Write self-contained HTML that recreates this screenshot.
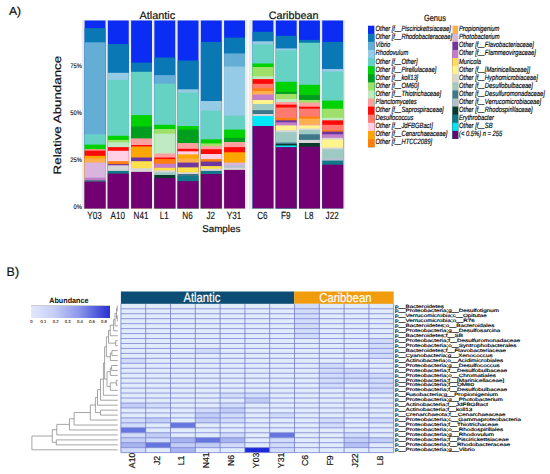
<!DOCTYPE html><html><head><meta charset="utf-8"><style>
html,body{margin:0;padding:0;background:#fff;}
body{width:550px;height:474px;position:relative;overflow:hidden;font-family:"Liberation Sans",sans-serif;}
.a{position:absolute;}
svg text{font-family:"Liberation Sans",sans-serif;text-rendering:geometricPrecision;}
</style></head><body>
<div class="a" style="left:31.4px;top:304.8px;width:78.6px;height:12.2px;background:linear-gradient(to right,#e2e9fc,#c4cdf6 30%,#8e98ea 60%,#3a44d8 92%,#2a32d0);border-top:0.6px solid #ccc;"></div>
<svg class="a" style="left:0;top:0;" width="550" height="474"><rect x="81.80" y="20.00" width="165.70" height="189.00" fill="#ebebeb"/><rect x="248.70" y="20.00" width="96.60" height="189.00" fill="#ebebeb"/><rect x="84.60" y="20.50" width="20.90" height="187.80" fill="#0b2cf2"/><rect x="84.60" y="28.10" width="20.90" height="180.20" fill="#0a78b4"/><rect x="84.60" y="42.30" width="20.90" height="166.00" fill="#64aed6"/><rect x="84.60" y="134.30" width="20.90" height="74.00" fill="#66d2c4"/><rect x="84.60" y="144.60" width="20.90" height="63.70" fill="#00d200"/><rect x="84.60" y="149.20" width="20.90" height="59.10" fill="#ffa0a0"/><rect x="84.60" y="150.60" width="20.90" height="57.70" fill="#ff0a0a"/><rect x="84.60" y="155.80" width="20.90" height="52.50" fill="#ffa500"/><rect x="84.60" y="158.50" width="20.90" height="49.80" fill="#ffb04e"/><rect x="84.60" y="162.60" width="20.90" height="45.70" fill="#d8b4de"/><rect x="84.60" y="177.70" width="20.90" height="30.60" fill="#c47ec8"/><rect x="84.60" y="180.20" width="20.90" height="28.10" fill="#3e7888"/><rect x="84.60" y="181.60" width="20.90" height="26.70" fill="#720072"/><rect x="107.85" y="20.50" width="20.90" height="187.80" fill="#0b2cf2"/><rect x="107.85" y="44.00" width="20.90" height="164.30" fill="#0a78b4"/><rect x="107.85" y="72.80" width="20.90" height="135.50" fill="#96cbe5"/><rect x="107.85" y="79.90" width="20.90" height="128.40" fill="#66d2c4"/><rect x="107.85" y="135.80" width="20.90" height="72.50" fill="#00d200"/><rect x="107.85" y="139.90" width="20.90" height="68.40" fill="#9ee06a"/><rect x="107.85" y="142.40" width="20.90" height="65.90" fill="#bfeac4"/><rect x="107.85" y="147.10" width="20.90" height="61.20" fill="#ff0a0a"/><rect x="107.85" y="150.80" width="20.90" height="57.50" fill="#ffd0e6"/><rect x="107.85" y="161.20" width="20.90" height="47.10" fill="#ff7f0e"/><rect x="107.85" y="164.10" width="20.90" height="44.20" fill="#6e36a0"/><rect x="107.85" y="165.30" width="20.90" height="43.00" fill="#d6d6d6"/><rect x="107.85" y="170.90" width="20.90" height="37.40" fill="#107888"/><rect x="107.85" y="173.60" width="20.90" height="34.70" fill="#720072"/><rect x="131.10" y="20.50" width="20.90" height="187.80" fill="#0b2cf2"/><rect x="131.10" y="62.60" width="20.90" height="145.70" fill="#0a78b4"/><rect x="131.10" y="71.80" width="20.90" height="136.50" fill="#66d2c4"/><rect x="131.10" y="115.10" width="20.90" height="93.20" fill="#00d200"/><rect x="131.10" y="126.50" width="20.90" height="81.80" fill="#009e1e"/><rect x="131.10" y="138.40" width="20.90" height="69.90" fill="#ffa0a0"/><rect x="131.10" y="145.00" width="20.90" height="63.30" fill="#ff0a0a"/><rect x="131.10" y="146.50" width="20.90" height="61.80" fill="#ffa500"/><rect x="131.10" y="157.50" width="20.90" height="50.80" fill="#6e36a0"/><rect x="131.10" y="161.20" width="20.90" height="47.10" fill="#ffe04a"/><rect x="131.10" y="168.20" width="20.90" height="40.10" fill="#d6d6d6"/><rect x="131.10" y="171.90" width="20.90" height="36.40" fill="#720072"/><rect x="154.35" y="20.50" width="20.90" height="187.80" fill="#0b2cf2"/><rect x="154.35" y="57.50" width="20.90" height="150.80" fill="#0a78b4"/><rect x="154.35" y="75.10" width="20.90" height="133.20" fill="#64aed6"/><rect x="154.35" y="83.80" width="20.90" height="124.50" fill="#66d2c4"/><rect x="154.35" y="124.80" width="20.90" height="83.50" fill="#00d200"/><rect x="154.35" y="129.00" width="20.90" height="79.30" fill="#9ee06a"/><rect x="154.35" y="133.70" width="20.90" height="74.60" fill="#bfeac4"/><rect x="154.35" y="153.50" width="20.90" height="54.80" fill="#ffa0a0"/><rect x="154.35" y="157.50" width="20.90" height="50.80" fill="#ff0a0a"/><rect x="154.35" y="159.10" width="20.90" height="49.20" fill="#ff7f0e"/><rect x="154.35" y="163.70" width="20.90" height="44.60" fill="#c47ec8"/><rect x="154.35" y="167.80" width="20.90" height="40.50" fill="#ffe04a"/><rect x="154.35" y="170.40" width="20.90" height="37.90" fill="#d6d6d6"/><rect x="154.35" y="172.30" width="20.90" height="36.00" fill="#9ecac4"/><rect x="154.35" y="175.00" width="20.90" height="33.30" fill="#0a3a2c"/><rect x="154.35" y="178.10" width="20.90" height="30.20" fill="#720072"/><rect x="177.60" y="20.50" width="20.90" height="187.80" fill="#0b2cf2"/><rect x="177.60" y="60.50" width="20.90" height="147.80" fill="#0a78b4"/><rect x="177.60" y="89.30" width="20.90" height="119.00" fill="#96cbe5"/><rect x="177.60" y="92.50" width="20.90" height="115.80" fill="#66d2c4"/><rect x="177.60" y="126.00" width="20.90" height="82.30" fill="#00d200"/><rect x="177.60" y="129.60" width="20.90" height="78.70" fill="#009e1e"/><rect x="177.60" y="143.00" width="20.90" height="65.30" fill="#ffa0a0"/><rect x="177.60" y="148.80" width="20.90" height="59.50" fill="#ff0a0a"/><rect x="177.60" y="151.30" width="20.90" height="57.00" fill="#ffd0e6"/><rect x="177.60" y="154.40" width="20.90" height="53.90" fill="#ffa500"/><rect x="177.60" y="158.50" width="20.90" height="49.80" fill="#ffb04e"/><rect x="177.60" y="162.60" width="20.90" height="45.70" fill="#6e36a0"/><rect x="177.60" y="167.40" width="20.90" height="40.90" fill="#ffe04a"/><rect x="177.60" y="172.30" width="20.90" height="36.00" fill="#d6d6d6"/><rect x="177.60" y="174.00" width="20.90" height="34.30" fill="#3e7888"/><rect x="177.60" y="176.00" width="20.90" height="32.30" fill="#107888"/><rect x="177.60" y="181.20" width="20.90" height="27.10" fill="#720072"/><rect x="200.85" y="20.50" width="20.90" height="187.80" fill="#0b2cf2"/><rect x="200.85" y="41.90" width="20.90" height="166.40" fill="#0a78b4"/><rect x="200.85" y="101.00" width="20.90" height="107.30" fill="#96cbe5"/><rect x="200.85" y="110.70" width="20.90" height="97.60" fill="#66d2c4"/><rect x="200.85" y="139.30" width="20.90" height="69.00" fill="#00d200"/><rect x="200.85" y="143.40" width="20.90" height="64.90" fill="#9ee06a"/><rect x="200.85" y="146.10" width="20.90" height="62.20" fill="#ffa0a0"/><rect x="200.85" y="149.20" width="20.90" height="59.10" fill="#ff0a0a"/><rect x="200.85" y="154.00" width="20.90" height="54.30" fill="#ffd0e6"/><rect x="200.85" y="159.10" width="20.90" height="49.20" fill="#ff7f0e"/><rect x="200.85" y="161.60" width="20.90" height="46.70" fill="#6e36a0"/><rect x="200.85" y="166.10" width="20.90" height="42.20" fill="#ffe04a"/><rect x="200.85" y="168.80" width="20.90" height="39.50" fill="#d6d6d6"/><rect x="200.85" y="170.90" width="20.90" height="37.40" fill="#107888"/><rect x="200.85" y="174.00" width="20.90" height="34.30" fill="#720072"/><rect x="224.10" y="20.50" width="20.90" height="187.80" fill="#0b2cf2"/><rect x="224.10" y="37.60" width="20.90" height="170.70" fill="#0a78b4"/><rect x="224.10" y="53.40" width="20.90" height="154.90" fill="#64aed6"/><rect x="224.10" y="66.60" width="20.90" height="141.70" fill="#96cbe5"/><rect x="224.10" y="115.70" width="20.90" height="92.60" fill="#66d2c4"/><rect x="224.10" y="129.60" width="20.90" height="78.70" fill="#00d200"/><rect x="224.10" y="137.80" width="20.90" height="70.50" fill="#009e1e"/><rect x="224.10" y="142.00" width="20.90" height="66.30" fill="#ffa0a0"/><rect x="224.10" y="147.10" width="20.90" height="61.20" fill="#ff0a0a"/><rect x="224.10" y="152.30" width="20.90" height="56.00" fill="#ffa500"/><rect x="224.10" y="162.60" width="20.90" height="45.70" fill="#d8b4de"/><rect x="224.10" y="165.30" width="20.90" height="43.00" fill="#b4c0d0"/><rect x="224.10" y="167.80" width="20.90" height="40.50" fill="#d6d6d6"/><rect x="224.10" y="169.90" width="20.90" height="38.40" fill="#720072"/><rect x="252.50" y="20.50" width="20.90" height="187.80" fill="#0b2cf2"/><rect x="252.50" y="31.80" width="20.90" height="176.50" fill="#0a78b4"/><rect x="252.50" y="41.30" width="20.90" height="167.00" fill="#96cbe5"/><rect x="252.50" y="44.30" width="20.90" height="164.00" fill="#66d2c4"/><rect x="252.50" y="63.50" width="20.90" height="144.80" fill="#00d200"/><rect x="252.50" y="67.00" width="20.90" height="141.30" fill="#9ee06a"/><rect x="252.50" y="76.30" width="20.90" height="132.00" fill="#bfeac4"/><rect x="252.50" y="79.10" width="20.90" height="129.20" fill="#ff0a0a"/><rect x="252.50" y="83.80" width="20.90" height="124.50" fill="#ff7b70"/><rect x="252.50" y="88.40" width="20.90" height="119.90" fill="#ff7f0e"/><rect x="252.50" y="90.90" width="20.90" height="117.40" fill="#ffb04e"/><rect x="252.50" y="94.50" width="20.90" height="113.80" fill="#c47ec8"/><rect x="252.50" y="100.00" width="20.90" height="108.30" fill="#fff58c"/><rect x="252.50" y="104.00" width="20.90" height="104.30" fill="#9ecac4"/><rect x="252.50" y="110.10" width="20.90" height="98.20" fill="#3e7888"/><rect x="252.50" y="114.00" width="20.90" height="94.30" fill="#d6d6d6"/><rect x="252.50" y="116.10" width="20.90" height="92.20" fill="#00e6f6"/><rect x="252.50" y="126.00" width="20.90" height="82.30" fill="#720072"/><rect x="275.80" y="20.50" width="20.90" height="187.80" fill="#0b2cf2"/><rect x="275.80" y="35.80" width="20.90" height="172.50" fill="#0a78b4"/><rect x="275.80" y="48.40" width="20.90" height="159.90" fill="#96cbe5"/><rect x="275.80" y="50.40" width="20.90" height="157.90" fill="#66d2c4"/><rect x="275.80" y="81.80" width="20.90" height="126.50" fill="#00d200"/><rect x="275.80" y="91.90" width="20.90" height="116.40" fill="#009e1e"/><rect x="275.80" y="93.90" width="20.90" height="114.40" fill="#9ee06a"/><rect x="275.80" y="99.00" width="20.90" height="109.30" fill="#bfeac4"/><rect x="275.80" y="102.00" width="20.90" height="106.30" fill="#ffa0a0"/><rect x="275.80" y="104.60" width="20.90" height="103.70" fill="#ff0a0a"/><rect x="275.80" y="107.50" width="20.90" height="100.80" fill="#ff7b70"/><rect x="275.80" y="117.80" width="20.90" height="90.50" fill="#ff7f0e"/><rect x="275.80" y="120.30" width="20.90" height="88.00" fill="#6e36a0"/><rect x="275.80" y="122.30" width="20.90" height="86.00" fill="#c47ec8"/><rect x="275.80" y="125.40" width="20.90" height="82.90" fill="#fff58c"/><rect x="275.80" y="130.20" width="20.90" height="78.10" fill="#d6d6d6"/><rect x="275.80" y="132.20" width="20.90" height="76.10" fill="#9ecac4"/><rect x="275.80" y="142.60" width="20.90" height="65.70" fill="#3e7888"/><rect x="275.80" y="144.00" width="20.90" height="64.30" fill="#0a3a2c"/><rect x="275.80" y="145.50" width="20.90" height="62.80" fill="#00e6f6"/><rect x="275.80" y="147.10" width="20.90" height="61.20" fill="#720072"/><rect x="299.00" y="20.50" width="20.90" height="187.80" fill="#0b2cf2"/><rect x="299.00" y="39.90" width="20.90" height="168.40" fill="#0a78b4"/><rect x="299.00" y="42.70" width="20.90" height="165.60" fill="#66d2c4"/><rect x="299.00" y="84.80" width="20.90" height="123.50" fill="#00d200"/><rect x="299.00" y="94.90" width="20.90" height="113.40" fill="#009e1e"/><rect x="299.00" y="100.00" width="20.90" height="108.30" fill="#9ee06a"/><rect x="299.00" y="102.60" width="20.90" height="105.70" fill="#ffa0a0"/><rect x="299.00" y="106.70" width="20.90" height="101.60" fill="#ff0a0a"/><rect x="299.00" y="108.70" width="20.90" height="99.60" fill="#ff7b70"/><rect x="299.00" y="116.50" width="20.90" height="91.80" fill="#ff7f0e"/><rect x="299.00" y="118.60" width="20.90" height="89.70" fill="#ffb04e"/><rect x="299.00" y="124.40" width="20.90" height="83.90" fill="#ffa0a0"/><rect x="299.00" y="125.40" width="20.90" height="82.90" fill="#fff58c"/><rect x="299.00" y="128.50" width="20.90" height="79.80" fill="#d6d6d6"/><rect x="299.00" y="130.00" width="20.90" height="78.30" fill="#9ecac4"/><rect x="299.00" y="134.30" width="20.90" height="74.00" fill="#3e7888"/><rect x="299.00" y="139.90" width="20.90" height="68.40" fill="#d6d6d6"/><rect x="299.00" y="143.00" width="20.90" height="65.30" fill="#0a3a2c"/><rect x="299.00" y="146.70" width="20.90" height="61.60" fill="#720072"/><rect x="322.20" y="20.50" width="20.90" height="187.80" fill="#0b2cf2"/><rect x="322.20" y="41.90" width="20.90" height="166.40" fill="#0a78b4"/><rect x="322.20" y="69.00" width="20.90" height="139.30" fill="#96cbe5"/><rect x="322.20" y="71.60" width="20.90" height="136.70" fill="#66d2c4"/><rect x="322.20" y="100.60" width="20.90" height="107.70" fill="#00d200"/><rect x="322.20" y="108.70" width="20.90" height="99.60" fill="#9ee06a"/><rect x="322.20" y="117.80" width="20.90" height="90.50" fill="#bfeac4"/><rect x="322.20" y="120.30" width="20.90" height="88.00" fill="#ff0a0a"/><rect x="322.20" y="124.80" width="20.90" height="83.50" fill="#ff7b70"/><rect x="322.20" y="130.20" width="20.90" height="78.10" fill="#ff7f0e"/><rect x="322.20" y="131.60" width="20.90" height="76.70" fill="#6e36a0"/><rect x="322.20" y="134.30" width="20.90" height="74.00" fill="#c47ec8"/><rect x="322.20" y="137.80" width="20.90" height="70.50" fill="#d6d6d6"/><rect x="322.20" y="139.50" width="20.90" height="68.80" fill="#fff58c"/><rect x="322.20" y="147.50" width="20.90" height="60.80" fill="#d6d6d6"/><rect x="322.20" y="149.20" width="20.90" height="59.10" fill="#9ecac4"/><rect x="322.20" y="157.90" width="20.90" height="50.40" fill="#b4c0d0"/><rect x="322.20" y="160.60" width="20.90" height="47.70" fill="#107888"/><rect x="322.20" y="164.70" width="20.90" height="43.60" fill="#720072"/><rect x="368.00" y="25.70" width="6.40" height="121.35" fill="#0b2cf2"/><rect x="368.00" y="33.79" width="6.40" height="113.26" fill="#0a78b4"/><rect x="368.00" y="41.88" width="6.40" height="105.17" fill="#64aed6"/><rect x="368.00" y="49.97" width="6.40" height="97.08" fill="#96cbe5"/><rect x="368.00" y="58.06" width="6.40" height="88.99" fill="#66d2c4"/><rect x="368.00" y="66.15" width="6.40" height="80.90" fill="#00d200"/><rect x="368.00" y="74.24" width="6.40" height="72.81" fill="#009e1e"/><rect x="368.00" y="82.33" width="6.40" height="64.72" fill="#9ee06a"/><rect x="368.00" y="90.42" width="6.40" height="56.63" fill="#bfeac4"/><rect x="368.00" y="98.51" width="6.40" height="48.54" fill="#ffa0a0"/><rect x="368.00" y="106.60" width="6.40" height="40.45" fill="#ff0a0a"/><rect x="368.00" y="114.69" width="6.40" height="32.36" fill="#ff7b70"/><rect x="368.00" y="122.78" width="6.40" height="24.27" fill="#ffd0e6"/><rect x="368.00" y="130.87" width="6.40" height="16.18" fill="#ffa500"/><rect x="368.00" y="138.96" width="6.40" height="8.09" fill="#ff7f0e"/><rect x="452.50" y="25.70" width="5.60" height="113.26" fill="#ffb04e"/><rect x="452.50" y="33.79" width="5.60" height="105.17" fill="#d8b4de"/><rect x="452.50" y="41.88" width="5.60" height="97.08" fill="#6e36a0"/><rect x="452.50" y="49.97" width="5.60" height="88.99" fill="#c47ec8"/><rect x="452.50" y="58.06" width="5.60" height="80.90" fill="#ffe04a"/><rect x="452.50" y="66.15" width="5.60" height="72.81" fill="#fff58c"/><rect x="452.50" y="74.24" width="5.60" height="64.72" fill="#d6d6d6"/><rect x="452.50" y="82.33" width="5.60" height="56.63" fill="#9ecac4"/><rect x="452.50" y="90.42" width="5.60" height="48.54" fill="#3e7888"/><rect x="452.50" y="98.51" width="5.60" height="40.45" fill="#b4c0d0"/><rect x="452.50" y="106.60" width="5.60" height="32.36" fill="#0a3a2c"/><rect x="452.50" y="114.69" width="5.60" height="24.27" fill="#107888"/><rect x="452.50" y="122.78" width="5.60" height="16.18" fill="#00e6f6"/><rect x="452.50" y="130.87" width="5.60" height="8.09" fill="#720072"/><rect x="120.90" y="291.50" width="173.30" height="12.50" fill="#0b4d74"/><rect x="294.20" y="291.50" width="99.50" height="12.50" fill="#f09c0c"/><rect x="120.90" y="303.80" width="272.80" height="148.80" fill="#e0ebfc"/><rect x="120.90" y="358.36" width="24.80" height="4.96" fill="#d0dcfa"/><rect x="120.90" y="403.00" width="24.80" height="4.96" fill="#c2cef6"/><rect x="120.90" y="417.88" width="24.80" height="4.96" fill="#d0dcfa"/><rect x="120.90" y="422.84" width="24.80" height="4.96" fill="#d0dcfa"/><rect x="120.90" y="427.80" width="24.80" height="4.96" fill="#6676e0"/><rect x="120.90" y="432.76" width="24.80" height="4.96" fill="#d0dcfa"/><rect x="120.90" y="437.72" width="24.80" height="4.96" fill="#c2cef6"/><rect x="120.90" y="442.68" width="24.80" height="4.96" fill="#a8b4f0"/><rect x="120.90" y="447.64" width="24.80" height="4.96" fill="#d0dcfa"/><rect x="145.70" y="403.00" width="24.80" height="4.96" fill="#d0dcfa"/><rect x="145.70" y="417.88" width="24.80" height="4.96" fill="#c2cef6"/><rect x="145.70" y="432.76" width="24.80" height="4.96" fill="#c2cef6"/><rect x="145.70" y="437.72" width="24.80" height="4.96" fill="#d0dcfa"/><rect x="145.70" y="442.68" width="24.80" height="4.96" fill="#6676e0"/><rect x="170.50" y="422.84" width="24.80" height="4.96" fill="#6676e0"/><rect x="170.50" y="437.72" width="24.80" height="4.96" fill="#a8b4f0"/><rect x="170.50" y="442.68" width="24.80" height="4.96" fill="#c2cef6"/><rect x="170.50" y="447.64" width="24.80" height="4.96" fill="#a8b4f0"/><rect x="195.30" y="348.44" width="24.80" height="4.96" fill="#d0dcfa"/><rect x="195.30" y="407.96" width="24.80" height="4.96" fill="#d0dcfa"/><rect x="195.30" y="412.92" width="24.80" height="4.96" fill="#c2cef6"/><rect x="195.30" y="417.88" width="24.80" height="4.96" fill="#c2cef6"/><rect x="195.30" y="437.72" width="24.80" height="4.96" fill="#6676e0"/><rect x="195.30" y="442.68" width="24.80" height="4.96" fill="#c2cef6"/><rect x="220.10" y="393.08" width="24.80" height="4.96" fill="#d0dcfa"/><rect x="220.10" y="403.00" width="24.80" height="4.96" fill="#d0dcfa"/><rect x="220.10" y="407.96" width="24.80" height="4.96" fill="#c2cef6"/><rect x="220.10" y="412.92" width="24.80" height="4.96" fill="#d0dcfa"/><rect x="220.10" y="417.88" width="24.80" height="4.96" fill="#d0dcfa"/><rect x="220.10" y="432.76" width="24.80" height="4.96" fill="#d0dcfa"/><rect x="220.10" y="437.72" width="24.80" height="4.96" fill="#a8b4f0"/><rect x="220.10" y="442.68" width="24.80" height="4.96" fill="#d0dcfa"/><rect x="244.90" y="393.08" width="24.80" height="4.96" fill="#d0dcfa"/><rect x="244.90" y="398.04" width="24.80" height="4.96" fill="#c2cef6"/><rect x="244.90" y="447.64" width="24.80" height="4.96" fill="#1c2ad8"/><rect x="269.70" y="412.92" width="24.80" height="4.96" fill="#d0dcfa"/><rect x="269.70" y="432.76" width="24.80" height="4.96" fill="#6676e0"/><rect x="269.70" y="437.72" width="24.80" height="4.96" fill="#d0dcfa"/><rect x="269.70" y="442.68" width="24.80" height="4.96" fill="#d0dcfa"/><rect x="269.70" y="447.64" width="24.80" height="4.96" fill="#d0dcfa"/><rect x="294.50" y="303.80" width="24.80" height="4.96" fill="#d0dcfa"/><rect x="294.50" y="308.76" width="24.80" height="4.96" fill="#d0dcfa"/><rect x="294.50" y="313.72" width="24.80" height="4.96" fill="#d0dcfa"/><rect x="294.50" y="318.68" width="24.80" height="4.96" fill="#d0dcfa"/><rect x="294.50" y="323.64" width="24.80" height="4.96" fill="#d0dcfa"/><rect x="294.50" y="328.60" width="24.80" height="4.96" fill="#d0dcfa"/><rect x="294.50" y="333.56" width="24.80" height="4.96" fill="#d0dcfa"/><rect x="319.30" y="363.32" width="24.80" height="4.96" fill="#d0dcfa"/><rect x="319.30" y="368.28" width="24.80" height="4.96" fill="#d0dcfa"/><rect x="319.30" y="373.24" width="24.80" height="4.96" fill="#d0dcfa"/><rect x="319.30" y="378.20" width="24.80" height="4.96" fill="#d0dcfa"/><rect x="319.30" y="383.16" width="24.80" height="4.96" fill="#d0dcfa"/><rect x="319.30" y="417.88" width="24.80" height="4.96" fill="#d0dcfa"/><rect x="319.30" y="422.84" width="24.80" height="4.96" fill="#d0dcfa"/><rect x="344.10" y="368.28" width="24.80" height="4.96" fill="#d0dcfa"/><rect x="344.10" y="373.24" width="24.80" height="4.96" fill="#d0dcfa"/><rect x="344.10" y="378.20" width="24.80" height="4.96" fill="#d0dcfa"/><rect x="344.10" y="432.76" width="24.80" height="4.96" fill="#d0dcfa"/><rect x="344.10" y="437.72" width="24.80" height="4.96" fill="#c2cef6"/><rect x="344.10" y="442.68" width="24.80" height="4.96" fill="#b6c2f4"/><rect x="368.90" y="338.52" width="24.80" height="4.96" fill="#d0dcfa"/><rect x="368.90" y="343.48" width="24.80" height="4.96" fill="#d0dcfa"/><rect x="368.90" y="348.44" width="24.80" height="4.96" fill="#d0dcfa"/><rect x="368.90" y="353.40" width="24.80" height="4.96" fill="#d0dcfa"/><rect x="368.90" y="373.24" width="24.80" height="4.96" fill="#d0dcfa"/><rect x="368.90" y="378.20" width="24.80" height="4.96" fill="#d0dcfa"/><rect x="368.90" y="383.16" width="24.80" height="4.96" fill="#d0dcfa"/><rect x="368.90" y="388.12" width="24.80" height="4.96" fill="#d0dcfa"/><rect x="368.90" y="417.88" width="24.80" height="4.96" fill="#d0dcfa"/><rect x="368.90" y="437.72" width="24.80" height="4.96" fill="#c2cef6"/><line x1="120.90" y1="308.76" x2="393.70" y2="308.76" stroke="#7c84d0" stroke-width="0.8"/><line x1="120.90" y1="313.72" x2="393.70" y2="313.72" stroke="#7c84d0" stroke-width="0.8"/><line x1="120.90" y1="318.68" x2="393.70" y2="318.68" stroke="#7c84d0" stroke-width="0.8"/><line x1="120.90" y1="323.64" x2="393.70" y2="323.64" stroke="#7c84d0" stroke-width="0.8"/><line x1="120.90" y1="328.60" x2="393.70" y2="328.60" stroke="#7c84d0" stroke-width="0.8"/><line x1="120.90" y1="333.56" x2="393.70" y2="333.56" stroke="#7c84d0" stroke-width="0.8"/><line x1="120.90" y1="338.52" x2="393.70" y2="338.52" stroke="#7c84d0" stroke-width="0.8"/><line x1="120.90" y1="343.48" x2="393.70" y2="343.48" stroke="#7c84d0" stroke-width="0.8"/><line x1="120.90" y1="348.44" x2="393.70" y2="348.44" stroke="#7c84d0" stroke-width="0.8"/><line x1="120.90" y1="353.40" x2="393.70" y2="353.40" stroke="#7c84d0" stroke-width="0.8"/><line x1="120.90" y1="358.36" x2="393.70" y2="358.36" stroke="#7c84d0" stroke-width="0.8"/><line x1="120.90" y1="363.32" x2="393.70" y2="363.32" stroke="#7c84d0" stroke-width="0.8"/><line x1="120.90" y1="368.28" x2="393.70" y2="368.28" stroke="#7c84d0" stroke-width="0.8"/><line x1="120.90" y1="373.24" x2="393.70" y2="373.24" stroke="#7c84d0" stroke-width="0.8"/><line x1="120.90" y1="378.20" x2="393.70" y2="378.20" stroke="#7c84d0" stroke-width="0.8"/><line x1="120.90" y1="383.16" x2="393.70" y2="383.16" stroke="#7c84d0" stroke-width="0.8"/><line x1="120.90" y1="388.12" x2="393.70" y2="388.12" stroke="#7c84d0" stroke-width="0.8"/><line x1="120.90" y1="393.08" x2="393.70" y2="393.08" stroke="#7c84d0" stroke-width="0.8"/><line x1="120.90" y1="398.04" x2="393.70" y2="398.04" stroke="#7c84d0" stroke-width="0.8"/><line x1="120.90" y1="403.00" x2="393.70" y2="403.00" stroke="#7c84d0" stroke-width="0.8"/><line x1="120.90" y1="407.96" x2="393.70" y2="407.96" stroke="#7c84d0" stroke-width="0.8"/><line x1="120.90" y1="412.92" x2="393.70" y2="412.92" stroke="#7c84d0" stroke-width="0.8"/><line x1="120.90" y1="417.88" x2="393.70" y2="417.88" stroke="#7c84d0" stroke-width="0.8"/><line x1="120.90" y1="422.84" x2="393.70" y2="422.84" stroke="#7c84d0" stroke-width="0.8"/><line x1="120.90" y1="427.80" x2="393.70" y2="427.80" stroke="#7c84d0" stroke-width="0.8"/><line x1="120.90" y1="432.76" x2="393.70" y2="432.76" stroke="#7c84d0" stroke-width="0.8"/><line x1="120.90" y1="437.72" x2="393.70" y2="437.72" stroke="#7c84d0" stroke-width="0.8"/><line x1="120.90" y1="442.68" x2="393.70" y2="442.68" stroke="#7c84d0" stroke-width="0.8"/><line x1="120.90" y1="447.64" x2="393.70" y2="447.64" stroke="#7c84d0" stroke-width="0.8"/><line x1="120.90" y1="452.60" x2="393.70" y2="452.60" stroke="#7c84d0" stroke-width="0.8"/><line x1="120.90" y1="303.80" x2="120.90" y2="452.60" stroke="#747cca" stroke-width="0.8"/><line x1="145.70" y1="303.80" x2="145.70" y2="452.60" stroke="#747cca" stroke-width="0.8"/><line x1="170.50" y1="303.80" x2="170.50" y2="452.60" stroke="#747cca" stroke-width="0.8"/><line x1="195.30" y1="303.80" x2="195.30" y2="452.60" stroke="#747cca" stroke-width="0.8"/><line x1="220.10" y1="303.80" x2="220.10" y2="452.60" stroke="#747cca" stroke-width="0.8"/><line x1="244.90" y1="303.80" x2="244.90" y2="452.60" stroke="#747cca" stroke-width="0.8"/><line x1="269.70" y1="303.80" x2="269.70" y2="452.60" stroke="#747cca" stroke-width="0.8"/><line x1="294.50" y1="303.80" x2="294.50" y2="452.60" stroke="#747cca" stroke-width="0.8"/><line x1="319.30" y1="303.80" x2="319.30" y2="452.60" stroke="#747cca" stroke-width="0.8"/><line x1="344.10" y1="303.80" x2="344.10" y2="452.60" stroke="#747cca" stroke-width="0.8"/><line x1="368.90" y1="303.80" x2="368.90" y2="452.60" stroke="#747cca" stroke-width="0.8"/><line x1="393.70" y1="303.80" x2="393.70" y2="452.60" stroke="#747cca" stroke-width="0.8"/></svg>
<svg class="a" style="left:0;top:0;" width="550" height="474"><g stroke="#888" stroke-width="0.75" fill="none"><line x1="117.20" y1="305.98" x2="117.20" y2="310.94"/><line x1="117.20" y1="305.98" x2="117.80" y2="305.98"/><line x1="117.20" y1="310.94" x2="117.80" y2="310.94"/><line x1="117.20" y1="315.90" x2="117.20" y2="320.86"/><line x1="117.20" y1="315.90" x2="117.80" y2="315.90"/><line x1="117.20" y1="320.86" x2="117.80" y2="320.86"/><line x1="116.50" y1="308.46" x2="116.50" y2="318.38"/><line x1="116.50" y1="308.46" x2="117.20" y2="308.46"/><line x1="116.50" y1="318.38" x2="117.20" y2="318.38"/><line x1="115.00" y1="313.42" x2="115.00" y2="325.82"/><line x1="115.00" y1="313.42" x2="116.50" y2="313.42"/><line x1="115.00" y1="325.82" x2="117.80" y2="325.82"/><line x1="113.60" y1="319.62" x2="113.60" y2="330.78"/><line x1="113.60" y1="319.62" x2="115.00" y2="319.62"/><line x1="113.60" y1="330.78" x2="117.80" y2="330.78"/><line x1="110.20" y1="325.20" x2="110.20" y2="335.74"/><line x1="110.20" y1="325.20" x2="113.60" y2="325.20"/><line x1="110.20" y1="335.74" x2="117.80" y2="335.74"/><line x1="115.70" y1="340.70" x2="115.70" y2="345.66"/><line x1="115.70" y1="340.70" x2="117.80" y2="340.70"/><line x1="115.70" y1="345.66" x2="117.80" y2="345.66"/><line x1="108.50" y1="330.47" x2="108.50" y2="343.18"/><line x1="108.50" y1="330.47" x2="110.20" y2="330.47"/><line x1="108.50" y1="343.18" x2="115.70" y2="343.18"/><line x1="111.90" y1="350.62" x2="111.90" y2="355.58"/><line x1="111.90" y1="350.62" x2="117.80" y2="350.62"/><line x1="111.90" y1="355.58" x2="117.80" y2="355.58"/><line x1="110.30" y1="353.10" x2="110.30" y2="360.54"/><line x1="110.30" y1="353.10" x2="111.90" y2="353.10"/><line x1="110.30" y1="360.54" x2="117.80" y2="360.54"/><line x1="106.40" y1="336.83" x2="106.40" y2="356.82"/><line x1="106.40" y1="336.83" x2="108.50" y2="336.83"/><line x1="106.40" y1="356.82" x2="110.30" y2="356.82"/><line x1="111.60" y1="365.50" x2="111.60" y2="370.46"/><line x1="111.60" y1="365.50" x2="117.80" y2="365.50"/><line x1="111.60" y1="370.46" x2="117.80" y2="370.46"/><line x1="110.30" y1="367.98" x2="110.30" y2="375.42"/><line x1="110.30" y1="367.98" x2="111.60" y2="367.98"/><line x1="110.30" y1="375.42" x2="117.80" y2="375.42"/><line x1="116.30" y1="380.38" x2="116.30" y2="385.34"/><line x1="116.30" y1="380.38" x2="117.80" y2="380.38"/><line x1="116.30" y1="385.34" x2="117.80" y2="385.34"/><line x1="110.30" y1="382.86" x2="110.30" y2="390.30"/><line x1="110.30" y1="382.86" x2="116.30" y2="382.86"/><line x1="110.30" y1="390.30" x2="117.80" y2="390.30"/><line x1="107.00" y1="371.70" x2="107.00" y2="386.58"/><line x1="107.00" y1="371.70" x2="110.30" y2="371.70"/><line x1="107.00" y1="386.58" x2="110.30" y2="386.58"/><line x1="104.60" y1="346.82" x2="104.60" y2="379.14"/><line x1="104.60" y1="346.82" x2="106.40" y2="346.82"/><line x1="104.60" y1="379.14" x2="107.00" y2="379.14"/><line x1="103.40" y1="362.98" x2="103.40" y2="395.26"/><line x1="103.40" y1="362.98" x2="104.60" y2="362.98"/><line x1="103.40" y1="395.26" x2="117.80" y2="395.26"/><line x1="100.50" y1="379.12" x2="100.50" y2="400.22"/><line x1="100.50" y1="379.12" x2="103.40" y2="379.12"/><line x1="100.50" y1="400.22" x2="117.80" y2="400.22"/><line x1="97.50" y1="389.67" x2="97.50" y2="405.18"/><line x1="97.50" y1="389.67" x2="100.50" y2="389.67"/><line x1="97.50" y1="405.18" x2="117.80" y2="405.18"/><line x1="100.50" y1="410.14" x2="100.50" y2="415.10"/><line x1="100.50" y1="410.14" x2="117.80" y2="410.14"/><line x1="100.50" y1="415.10" x2="117.80" y2="415.10"/><line x1="95.40" y1="397.43" x2="95.40" y2="412.62"/><line x1="95.40" y1="397.43" x2="97.50" y2="397.43"/><line x1="95.40" y1="412.62" x2="100.50" y2="412.62"/><line x1="90.30" y1="405.02" x2="90.30" y2="420.06"/><line x1="90.30" y1="405.02" x2="95.40" y2="405.02"/><line x1="90.30" y1="420.06" x2="117.80" y2="420.06"/><line x1="74.10" y1="412.54" x2="74.10" y2="425.02"/><line x1="74.10" y1="412.54" x2="90.30" y2="412.54"/><line x1="74.10" y1="425.02" x2="117.80" y2="425.02"/><line x1="69.50" y1="418.78" x2="69.50" y2="429.98"/><line x1="69.50" y1="418.78" x2="74.10" y2="418.78"/><line x1="69.50" y1="429.98" x2="117.80" y2="429.98"/><line x1="56.80" y1="424.38" x2="56.80" y2="434.94"/><line x1="56.80" y1="424.38" x2="69.50" y2="424.38"/><line x1="56.80" y1="434.94" x2="117.80" y2="434.94"/><line x1="56.30" y1="439.90" x2="56.30" y2="444.86"/><line x1="56.30" y1="439.90" x2="117.80" y2="439.90"/><line x1="56.30" y1="444.86" x2="117.80" y2="444.86"/><line x1="52.30" y1="429.66" x2="52.30" y2="442.38"/><line x1="52.30" y1="429.66" x2="56.80" y2="429.66"/><line x1="52.30" y1="442.38" x2="56.30" y2="442.38"/><line x1="31.90" y1="436.02" x2="31.90" y2="449.82"/><line x1="31.90" y1="436.02" x2="52.30" y2="436.02"/><line x1="31.90" y1="449.82" x2="117.80" y2="449.82"/></g></svg>
<svg class="a" style="left:0;top:0;" width="550" height="474"><text transform="translate(94.55 218.60) scale(0.78 1)" font-size="10.4" text-anchor="middle" fill="#111" font-weight="normal" font-style="normal" stroke="#111" stroke-width="0.15">Y03</text><text transform="translate(117.80 218.60) scale(0.78 1)" font-size="10.4" text-anchor="middle" fill="#111" font-weight="normal" font-style="normal" stroke="#111" stroke-width="0.15">A10</text><text transform="translate(141.05 218.60) scale(0.78 1)" font-size="10.4" text-anchor="middle" fill="#111" font-weight="normal" font-style="normal" stroke="#111" stroke-width="0.15">N41</text><text transform="translate(164.30 218.60) scale(0.78 1)" font-size="10.4" text-anchor="middle" fill="#111" font-weight="normal" font-style="normal" stroke="#111" stroke-width="0.15">L1</text><text transform="translate(187.55 218.60) scale(0.78 1)" font-size="10.4" text-anchor="middle" fill="#111" font-weight="normal" font-style="normal" stroke="#111" stroke-width="0.15">N6</text><text transform="translate(210.80 218.60) scale(0.78 1)" font-size="10.4" text-anchor="middle" fill="#111" font-weight="normal" font-style="normal" stroke="#111" stroke-width="0.15">J2</text><text transform="translate(234.05 218.60) scale(0.78 1)" font-size="10.4" text-anchor="middle" fill="#111" font-weight="normal" font-style="normal" stroke="#111" stroke-width="0.15">Y31</text><text transform="translate(262.45 218.60) scale(0.78 1)" font-size="10.4" text-anchor="middle" fill="#111" font-weight="normal" font-style="normal" stroke="#111" stroke-width="0.15">C6</text><text transform="translate(285.75 218.60) scale(0.78 1)" font-size="10.4" text-anchor="middle" fill="#111" font-weight="normal" font-style="normal" stroke="#111" stroke-width="0.15">F9</text><text transform="translate(308.95 218.60) scale(0.78 1)" font-size="10.4" text-anchor="middle" fill="#111" font-weight="normal" font-style="normal" stroke="#111" stroke-width="0.15">L8</text><text transform="translate(332.15 218.60) scale(0.78 1)" font-size="10.4" text-anchor="middle" fill="#111" font-weight="normal" font-style="normal" stroke="#111" stroke-width="0.15">J22</text><text transform="translate(8.90 14.80) scale(1.06 1)" font-size="11.5" text-anchor="start" fill="#111" font-weight="normal" font-style="normal" stroke="#111" stroke-width="0.2">A)</text><text transform="translate(139.50 19.00)" font-size="10.9" text-anchor="start" fill="#111" font-weight="normal" font-style="normal" stroke="#111" stroke-width="0.2">Atlantic</text><text transform="translate(268.70 19.30)" font-size="10.8" text-anchor="start" fill="#111" font-weight="normal" font-style="normal" stroke="#111" stroke-width="0.2">Caribbean</text><text transform="translate(202.20 232.40)" font-size="9.8" text-anchor="start" fill="#111" font-weight="normal" font-style="normal" stroke="#111" stroke-width="0.2">Samples</text><text transform="translate(81.80 68.20) scale(0.87 1)" font-size="6.6" text-anchor="end" fill="#111" font-weight="normal" font-style="normal" stroke="#111" stroke-width="0.15">75%</text><text transform="translate(81.80 115.00) scale(0.87 1)" font-size="6.6" text-anchor="end" fill="#111" font-weight="normal" font-style="normal" stroke="#111" stroke-width="0.15">50%</text><text transform="translate(81.80 161.80) scale(0.87 1)" font-size="6.6" text-anchor="end" fill="#111" font-weight="normal" font-style="normal" stroke="#111" stroke-width="0.15">25%</text><text transform="translate(81.80 208.60) scale(0.87 1)" font-size="6.6" text-anchor="end" fill="#111" font-weight="normal" font-style="normal" stroke="#111" stroke-width="0.15">0%</text><text transform="translate(60.80 115.10) rotate(-90) scale(1.24 1)" font-size="10.75" text-anchor="middle" fill="#111" font-weight="normal" font-style="normal" stroke="#111" stroke-width="0.2">Relative Abundance</text><text transform="translate(423.90 20.90) scale(0.84 1)" font-size="8.9" text-anchor="start" fill="#111" font-weight="normal" font-style="normal" stroke="#111" stroke-width="0.2">Genus</text><text transform="translate(375.60 31.20) scale(0.765 1)" font-size="7.6" text-anchor="start" fill="#000" font-weight="normal" font-style="italic" stroke="#000" stroke-width="0.18">Other [f__Piscirickettsiaceae]</text><text transform="translate(375.60 39.29) scale(0.765 1)" font-size="7.6" text-anchor="start" fill="#000" font-weight="normal" font-style="italic" stroke="#000" stroke-width="0.18">Other [f__Rhodobacteraceae]</text><text transform="translate(375.60 47.38) scale(0.765 1)" font-size="7.6" text-anchor="start" fill="#000" font-weight="normal" font-style="italic" stroke="#000" stroke-width="0.18">Vibrio</text><text transform="translate(375.60 55.47) scale(0.765 1)" font-size="7.6" text-anchor="start" fill="#000" font-weight="normal" font-style="italic" stroke="#000" stroke-width="0.18">Rhodovulum</text><text transform="translate(375.60 63.56) scale(0.765 1)" font-size="7.6" text-anchor="start" fill="#000" font-weight="normal" font-style="italic" stroke="#000" stroke-width="0.18">Other [f__Other]</text><text transform="translate(375.60 71.65) scale(0.765 1)" font-size="7.6" text-anchor="start" fill="#000" font-weight="normal" font-style="italic" stroke="#000" stroke-width="0.18">Other [f__Pirellulaceae]</text><text transform="translate(375.60 79.74) scale(0.765 1)" font-size="7.6" text-anchor="start" fill="#000" font-weight="normal" font-style="italic" stroke="#000" stroke-width="0.18">Other [f__koll13]</text><text transform="translate(375.60 87.83) scale(0.765 1)" font-size="7.6" text-anchor="start" fill="#000" font-weight="normal" font-style="italic" stroke="#000" stroke-width="0.18">Other [f__OM60]</text><text transform="translate(375.60 95.92) scale(0.765 1)" font-size="7.6" text-anchor="start" fill="#000" font-weight="normal" font-style="italic" stroke="#000" stroke-width="0.18">Other [f__Thiotrichaceae]</text><text transform="translate(375.60 104.01) scale(0.765 1)" font-size="7.6" text-anchor="start" fill="#000" font-weight="normal" font-style="italic" stroke="#000" stroke-width="0.18">Planctomycetes</text><text transform="translate(375.60 112.10) scale(0.765 1)" font-size="7.6" text-anchor="start" fill="#000" font-weight="normal" font-style="italic" stroke="#000" stroke-width="0.18">Other [f__Saprospiraceae]</text><text transform="translate(375.60 120.19) scale(0.765 1)" font-size="7.6" text-anchor="start" fill="#000" font-weight="normal" font-style="italic" stroke="#000" stroke-width="0.18">Desulfococcus</text><text transform="translate(375.60 128.28) scale(0.765 1)" font-size="7.6" text-anchor="start" fill="#000" font-weight="normal" font-style="italic" stroke="#000" stroke-width="0.18">Other [f__JdFBGBact]</text><text transform="translate(375.60 136.37) scale(0.765 1)" font-size="7.6" text-anchor="start" fill="#000" font-weight="normal" font-style="italic" stroke="#000" stroke-width="0.18">Other [f__Cenarchaeaceae]</text><text transform="translate(375.60 144.46) scale(0.765 1)" font-size="7.6" text-anchor="start" fill="#000" font-weight="normal" font-style="italic" stroke="#000" stroke-width="0.18">Other [f__HTCC2089]</text><text transform="translate(459.00 31.20) scale(0.765 1)" font-size="7.6" text-anchor="start" fill="#000" font-weight="normal" font-style="italic" stroke="#000" stroke-width="0.18">Propionigenium</text><text transform="translate(459.00 39.29) scale(0.765 1)" font-size="7.6" text-anchor="start" fill="#000" font-weight="normal" font-style="italic" stroke="#000" stroke-width="0.18">Photobacterium</text><text transform="translate(459.00 47.38) scale(0.765 1)" font-size="7.6" text-anchor="start" fill="#000" font-weight="normal" font-style="italic" stroke="#000" stroke-width="0.18">Other [f__Flavobacteriaceae]</text><text transform="translate(459.00 55.47) scale(0.765 1)" font-size="7.6" text-anchor="start" fill="#000" font-weight="normal" font-style="italic" stroke="#000" stroke-width="0.18">Other [f__Flammeovirgaceae]</text><text transform="translate(459.00 63.56) scale(0.765 1)" font-size="7.6" text-anchor="start" fill="#000" font-weight="normal" font-style="italic" stroke="#000" stroke-width="0.18">Muricola</text><text transform="translate(459.00 71.65) scale(0.765 1)" font-size="7.6" text-anchor="start" fill="#000" font-weight="normal" font-style="italic" stroke="#000" stroke-width="0.18">Other [f__[Marinicellaceae]]</text><text transform="translate(459.00 79.74) scale(0.765 1)" font-size="7.6" text-anchor="start" fill="#000" font-weight="normal" font-style="italic" stroke="#000" stroke-width="0.18">Other [f__Hyphomicrobiaceae]</text><text transform="translate(459.00 87.83) scale(0.765 1)" font-size="7.6" text-anchor="start" fill="#000" font-weight="normal" font-style="italic" stroke="#000" stroke-width="0.18">Other [f__Desulfobulbaceae]</text><text transform="translate(459.00 95.92) scale(0.765 1)" font-size="7.6" text-anchor="start" fill="#000" font-weight="normal" font-style="italic" stroke="#000" stroke-width="0.18">Other [f__Desulfuromonadaceae]</text><text transform="translate(459.00 104.01) scale(0.765 1)" font-size="7.6" text-anchor="start" fill="#000" font-weight="normal" font-style="italic" stroke="#000" stroke-width="0.18">Other [f__Verrucomicrobiaceae]</text><text transform="translate(459.00 112.10) scale(0.765 1)" font-size="7.6" text-anchor="start" fill="#000" font-weight="normal" font-style="italic" stroke="#000" stroke-width="0.18">Other [f__Rhodospirillaceae]</text><text transform="translate(459.00 120.19) scale(0.765 1)" font-size="7.6" text-anchor="start" fill="#000" font-weight="normal" font-style="italic" stroke="#000" stroke-width="0.18">Erythrobacter</text><text transform="translate(459.00 128.28) scale(0.765 1)" font-size="7.6" text-anchor="start" fill="#000" font-weight="normal" font-style="italic" stroke="#000" stroke-width="0.18">Other [f__SB</text><text transform="translate(459.00 136.37) scale(0.765 1)" font-size="7.6" text-anchor="start" fill="#000" font-weight="normal" font-style="italic" stroke="#000" stroke-width="0.18">(&lt; 0.5%) n = 255</text><text transform="translate(6.60 275.80)" font-size="12.5" text-anchor="start" fill="#111" font-weight="normal" font-style="normal" stroke="#111" stroke-width="0.2">B)</text><text transform="translate(49.20 303.00) scale(0.94 1)" font-size="7.7" text-anchor="start" fill="#111" font-weight="bold" font-style="normal">Abundance</text><text transform="translate(31.40 322.60)" font-size="4.2" text-anchor="middle" fill="#222" font-weight="normal" font-style="normal" stroke="#222" stroke-width="0.1">0</text><text transform="translate(43.50 322.60)" font-size="4.2" text-anchor="middle" fill="#222" font-weight="normal" font-style="normal" stroke="#222" stroke-width="0.1">0.1</text><text transform="translate(55.60 322.60)" font-size="4.2" text-anchor="middle" fill="#222" font-weight="normal" font-style="normal" stroke="#222" stroke-width="0.1">0.2</text><text transform="translate(67.70 322.60)" font-size="4.2" text-anchor="middle" fill="#222" font-weight="normal" font-style="normal" stroke="#222" stroke-width="0.1">0.3</text><text transform="translate(79.80 322.60)" font-size="4.2" text-anchor="middle" fill="#222" font-weight="normal" font-style="normal" stroke="#222" stroke-width="0.1">0.4</text><text transform="translate(91.90 322.60)" font-size="4.2" text-anchor="middle" fill="#222" font-weight="normal" font-style="normal" stroke="#222" stroke-width="0.1">0.5</text><text transform="translate(104.00 322.60)" font-size="4.2" text-anchor="middle" fill="#222" font-weight="normal" font-style="normal" stroke="#222" stroke-width="0.1">0.6</text><text transform="translate(183.40 302.20) scale(0.84 1)" font-size="13.4" text-anchor="start" fill="#fff" font-weight="normal" font-style="normal" stroke="#fff" stroke-width="0.2">Atlantic</text><text transform="translate(319.20 301.80) scale(0.88 1)" font-size="12.9" text-anchor="start" fill="#fff" font-weight="normal" font-style="normal" stroke="#fff" stroke-width="0.2">Caribbean</text><text transform="translate(395.00 307.50) scale(0.5 0.37)" font-size="12.6" text-anchor="start" fill="#000" font-weight="normal" font-style="normal" stroke="#000" stroke-width="0.45">p__Bacteroidetes</text><text transform="translate(395.00 312.43) scale(0.5 0.37)" font-size="12.6" text-anchor="start" fill="#000" font-weight="normal" font-style="normal" stroke="#000" stroke-width="0.45">p__Proteobacteria;g__Desulfotignum</text><text transform="translate(395.00 317.37) scale(0.5 0.37)" font-size="12.6" text-anchor="start" fill="#000" font-weight="normal" font-style="normal" stroke="#000" stroke-width="0.45">p__Verrucomicrobia;c__Opitutae</text><text transform="translate(395.00 322.30) scale(0.5 0.37)" font-size="12.6" text-anchor="start" fill="#000" font-weight="normal" font-style="normal" stroke="#000" stroke-width="0.45">p__Verrucomicrobia;o__R76</text><text transform="translate(395.00 327.24) scale(0.5 0.37)" font-size="12.6" text-anchor="start" fill="#000" font-weight="normal" font-style="normal" stroke="#000" stroke-width="0.45">p__Bacteroidetes;o__Bacteroidales</text><text transform="translate(395.00 332.17) scale(0.5 0.37)" font-size="12.6" text-anchor="start" fill="#000" font-weight="normal" font-style="normal" stroke="#000" stroke-width="0.45">p__Proteobacteria;g__Desulfosarcina</text><text transform="translate(395.00 337.10) scale(0.5 0.37)" font-size="12.6" text-anchor="start" fill="#000" font-weight="normal" font-style="normal" stroke="#000" stroke-width="0.45">p__Bacteroidetes;f__SB</text><text transform="translate(395.00 342.04) scale(0.5 0.37)" font-size="12.6" text-anchor="start" fill="#000" font-weight="normal" font-style="normal" stroke="#000" stroke-width="0.45">p__Proteobacteria;f__Desulfuromonadaceae</text><text transform="translate(395.00 346.97) scale(0.5 0.37)" font-size="12.6" text-anchor="start" fill="#000" font-weight="normal" font-style="normal" stroke="#000" stroke-width="0.45">p__Proteobacteria;o__Syntrophobacterales</text><text transform="translate(395.00 351.91) scale(0.5 0.37)" font-size="12.6" text-anchor="start" fill="#000" font-weight="normal" font-style="normal" stroke="#000" stroke-width="0.45">p__Bacteroidetes;f__Flavobacteriaceae</text><text transform="translate(395.00 356.84) scale(0.5 0.37)" font-size="12.6" text-anchor="start" fill="#000" font-weight="normal" font-style="normal" stroke="#000" stroke-width="0.45">p__Cyanobacteria;g__Xenococcus</text><text transform="translate(395.00 361.77) scale(0.5 0.37)" font-size="12.6" text-anchor="start" fill="#000" font-weight="normal" font-style="normal" stroke="#000" stroke-width="0.45">p__Actinobacteria;o__Acidimicrobiales</text><text transform="translate(395.00 366.71) scale(0.5 0.37)" font-size="12.6" text-anchor="start" fill="#000" font-weight="normal" font-style="normal" stroke="#000" stroke-width="0.45">p__Proteobacteria;g__Desulfococcus</text><text transform="translate(395.00 371.64) scale(0.5 0.37)" font-size="12.6" text-anchor="start" fill="#000" font-weight="normal" font-style="normal" stroke="#000" stroke-width="0.45">p__Proteobacteria;f__Desulfobulbaceae</text><text transform="translate(395.00 376.58) scale(0.5 0.37)" font-size="12.6" text-anchor="start" fill="#000" font-weight="normal" font-style="normal" stroke="#000" stroke-width="0.45">p__Proteobacteria;o__Chromatiales</text><text transform="translate(395.00 381.51) scale(0.5 0.37)" font-size="12.6" text-anchor="start" fill="#000" font-weight="normal" font-style="normal" stroke="#000" stroke-width="0.45">p__Proteobacteria;f__[Marinicellaceae]</text><text transform="translate(395.00 386.44) scale(0.5 0.37)" font-size="12.6" text-anchor="start" fill="#000" font-weight="normal" font-style="normal" stroke="#000" stroke-width="0.45">p__Proteobacteria;f__OM60</text><text transform="translate(395.00 391.38) scale(0.5 0.37)" font-size="12.6" text-anchor="start" fill="#000" font-weight="normal" font-style="normal" stroke="#000" stroke-width="0.45">p__Proteobacteria;f__Desulfobulbaceae</text><text transform="translate(395.00 396.31) scale(0.5 0.37)" font-size="12.6" text-anchor="start" fill="#000" font-weight="normal" font-style="normal" stroke="#000" stroke-width="0.45">p__Fusobacteria;g__Propionigenium</text><text transform="translate(395.00 401.25) scale(0.5 0.37)" font-size="12.6" text-anchor="start" fill="#000" font-weight="normal" font-style="normal" stroke="#000" stroke-width="0.45">p__Proteobacteria;g__Photobacterium</text><text transform="translate(395.00 406.18) scale(0.5 0.37)" font-size="12.6" text-anchor="start" fill="#000" font-weight="normal" font-style="normal" stroke="#000" stroke-width="0.45">p__Actinobacteria;f__JdFBGBact</text><text transform="translate(395.00 411.11) scale(0.5 0.37)" font-size="12.6" text-anchor="start" fill="#000" font-weight="normal" font-style="normal" stroke="#000" stroke-width="0.45">p__Actinobacteria;f__koll13</text><text transform="translate(395.00 416.05) scale(0.5 0.37)" font-size="12.6" text-anchor="start" fill="#000" font-weight="normal" font-style="normal" stroke="#000" stroke-width="0.45">p__Crenarchaeota;f__Cenarchaeaceae</text><text transform="translate(395.00 420.98) scale(0.5 0.37)" font-size="12.6" text-anchor="start" fill="#000" font-weight="normal" font-style="normal" stroke="#000" stroke-width="0.45">p__Proteobacteria;c__Gammaproteobacteria</text><text transform="translate(395.00 425.92) scale(0.5 0.37)" font-size="12.6" text-anchor="start" fill="#000" font-weight="normal" font-style="normal" stroke="#000" stroke-width="0.45">p__Proteobacteria;f__Thiotrichaceae</text><text transform="translate(395.00 430.85) scale(0.5 0.37)" font-size="12.6" text-anchor="start" fill="#000" font-weight="normal" font-style="normal" stroke="#000" stroke-width="0.45">p__Proteobacteria;o__Rhodospirillales</text><text transform="translate(395.00 435.78) scale(0.5 0.37)" font-size="12.6" text-anchor="start" fill="#000" font-weight="normal" font-style="normal" stroke="#000" stroke-width="0.45">p__Proteobacteria;g__Rhodovulum</text><text transform="translate(395.00 440.72) scale(0.5 0.37)" font-size="12.6" text-anchor="start" fill="#000" font-weight="normal" font-style="normal" stroke="#000" stroke-width="0.45">p__Proteobacteria;f__Piscirickettsiaceae</text><text transform="translate(395.00 445.65) scale(0.5 0.37)" font-size="12.6" text-anchor="start" fill="#000" font-weight="normal" font-style="normal" stroke="#000" stroke-width="0.45">p__Proteobacteria;f__Rhodobacteraceae</text><text transform="translate(395.00 450.59) scale(0.5 0.37)" font-size="12.6" text-anchor="start" fill="#000" font-weight="normal" font-style="normal" stroke="#000" stroke-width="0.45">p__Proteobacteria;g__Vibrio</text><text transform="translate(134.80 460.40) rotate(-90)" font-size="8.7" text-anchor="middle" fill="#111" font-weight="normal" font-style="normal" stroke="#111" stroke-width="0.2">A10</text><text transform="translate(159.60 460.40) rotate(-90)" font-size="8.7" text-anchor="middle" fill="#111" font-weight="normal" font-style="normal" stroke="#111" stroke-width="0.2">J2</text><text transform="translate(184.40 460.40) rotate(-90)" font-size="8.7" text-anchor="middle" fill="#111" font-weight="normal" font-style="normal" stroke="#111" stroke-width="0.2">L1</text><text transform="translate(209.20 460.40) rotate(-90)" font-size="8.7" text-anchor="middle" fill="#111" font-weight="normal" font-style="normal" stroke="#111" stroke-width="0.2">N41</text><text transform="translate(234.00 460.40) rotate(-90)" font-size="8.7" text-anchor="middle" fill="#111" font-weight="normal" font-style="normal" stroke="#111" stroke-width="0.2">N6</text><text transform="translate(258.80 460.40) rotate(-90)" font-size="8.7" text-anchor="middle" fill="#111" font-weight="normal" font-style="normal" stroke="#111" stroke-width="0.2">Y03</text><text transform="translate(283.60 460.40) rotate(-90)" font-size="8.7" text-anchor="middle" fill="#111" font-weight="normal" font-style="normal" stroke="#111" stroke-width="0.2">Y31</text><text transform="translate(308.40 460.40) rotate(-90)" font-size="8.7" text-anchor="middle" fill="#111" font-weight="normal" font-style="normal" stroke="#111" stroke-width="0.2">C6</text><text transform="translate(333.20 460.40) rotate(-90)" font-size="8.7" text-anchor="middle" fill="#111" font-weight="normal" font-style="normal" stroke="#111" stroke-width="0.2">F9</text><text transform="translate(358.00 460.40) rotate(-90)" font-size="8.7" text-anchor="middle" fill="#111" font-weight="normal" font-style="normal" stroke="#111" stroke-width="0.2">J22</text><text transform="translate(382.80 460.40) rotate(-90)" font-size="8.7" text-anchor="middle" fill="#111" font-weight="normal" font-style="normal" stroke="#111" stroke-width="0.2">L8</text></svg>
</body></html>
